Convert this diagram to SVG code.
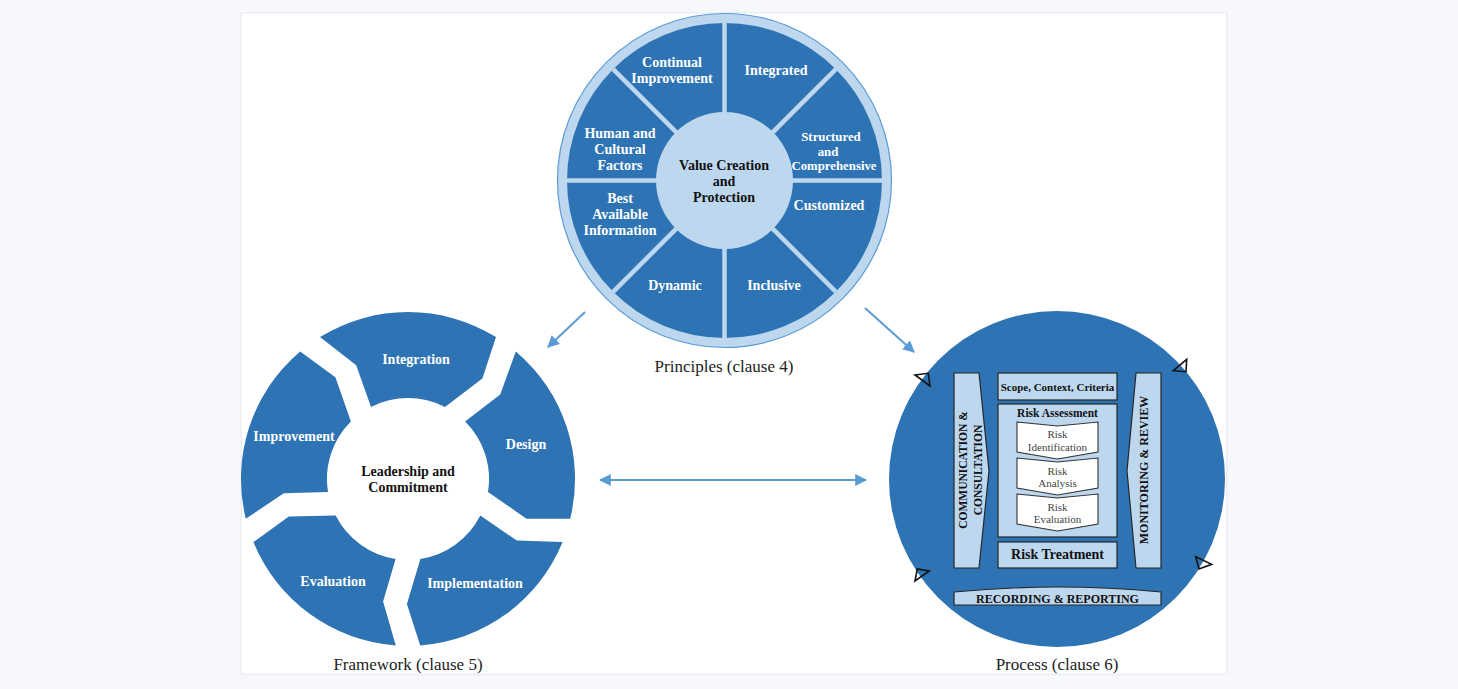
<svg xmlns="http://www.w3.org/2000/svg" width="1458" height="689" viewBox="0 0 1458 689">
<defs>
<style>
.dark{fill:#2e74b5}
.light{fill:#bdd7ee}
.wl{font-family:"Liberation Serif",serif;font-weight:bold;fill:#ffffff;text-anchor:middle}
.bl{font-family:"Liberation Serif",serif;font-weight:bold;fill:#111111;text-anchor:middle}
.cap{font-family:"Liberation Serif",serif;font-size:17px;fill:#222222;text-anchor:middle}
.box{fill:#bdd7ee;stroke:#262626;stroke-width:1.2}
.chev{fill:#ffffff;stroke:#333333;stroke-width:1.1}
.sub{font-family:"Liberation Serif",serif;font-size:11px;fill:#444444;text-anchor:middle}
.conn{stroke:#5b9bd5;stroke-width:2;fill:none}
.tri{fill:none;stroke:#111111;stroke-width:1.6;stroke-linejoin:miter}
.div{stroke:#bdd7ee;stroke-width:4.5}
</style>
<marker id="ah" viewBox="0 0 10 10" refX="9" refY="5" markerWidth="6" markerHeight="6" orient="auto-start-reverse" markerUnits="strokeWidth">
<path d="M0,0 L10,5 L0,10 Z" fill="#5b9bd5"/>
</marker>
</defs>
<rect x="0" y="0" width="1458" height="689" fill="#f7f8fc"/>
<rect x="240.5" y="12" width="987" height="663" fill="#eceef3"/>
<rect x="242" y="13.5" width="984" height="660" fill="#ffffff"/>

<g id="principles">
<circle cx="724.5" cy="180.5" r="167" fill="#bdd7ee" stroke="#5b9bd5" stroke-width="1.2"/>
<circle cx="724.5" cy="180.5" r="157.5" class="dark"/>
<line x1="724.5" y1="23" x2="724.5" y2="338" class="div"/>
<line x1="567" y1="180.5" x2="882" y2="180.5" class="div"/>
<line x1="613.1" y1="69.1" x2="835.9" y2="291.9" class="div"/>
<line x1="835.9" y1="69.1" x2="613.1" y2="291.9" class="div"/>
<circle cx="724.5" cy="180.5" r="68.5" fill="#bdd7ee"/>
<text class="wl" font-size="14"><tspan x="672" y="67">Continual</tspan><tspan x="672" y="83">Improvement</tspan></text>
<text class="wl" font-size="14" x="776" y="75">Integrated</text>
<text class="wl" font-size="12.8"><tspan x="831" y="141">Structured</tspan><tspan x="828" y="155.5">and</tspan><tspan x="834" y="170">Comprehensive</tspan></text>
<text class="wl" font-size="14" x="829" y="210">Customized</text>
<text class="wl" font-size="14" x="774" y="290">Inclusive</text>
<text class="wl" font-size="14" x="675" y="290">Dynamic</text>
<text class="wl" font-size="14"><tspan x="620" y="203">Best</tspan><tspan x="620" y="219">Available</tspan><tspan x="620" y="235">Information</tspan></text>
<text class="wl" font-size="14"><tspan x="620" y="138">Human and</tspan><tspan x="620" y="154">Cultural</tspan><tspan x="620" y="170">Factors</tspan></text>
<text class="bl" font-size="14"><tspan x="724" y="170">Value Creation</tspan><tspan x="724" y="186">and</tspan><tspan x="724" y="202">Protection</tspan></text>
<text class="cap" x="724" y="372">Principles (clause 4)</text>
</g>

<g id="framework">
<path class="dark" d="M320.0,337.1 A167,167 0 0 1 496.0,337.1 L482.4,378.5 L445.0,407.0 A81,81 0 0 0 371.0,407.0 L356.2,365.2 Z"/>
<path class="dark" d="M515.8,351.4 A167,167 0 0 1 570.2,518.8 L526.5,518.7 L488.0,492.0 A81,81 0 0 0 465.1,421.5 L500.2,394.5 Z"/>
<path class="dark" d="M562.6,542.1 A167,167 0 0 1 420.2,645.5 L406.9,604.0 L420.4,559.0 A81,81 0 0 0 480.3,515.5 L516.8,540.6 Z"/>
<path class="dark" d="M395.8,645.5 A167,167 0 0 1 253.4,542.1 L288.8,516.6 L335.7,515.5 A81,81 0 0 0 395.6,559.0 L383.1,601.5 Z"/>
<path class="dark" d="M245.8,518.8 A167,167 0 0 1 300.2,351.4 L335.4,377.2 L350.9,421.5 A81,81 0 0 0 328.0,492.0 L283.8,493.2 Z"/>
<text class="wl" font-size="14" x="416" y="364">Integration</text>
<text class="wl" font-size="14" x="526" y="449">Design</text>
<text class="wl" font-size="14" x="475" y="588">Implementation</text>
<text class="wl" font-size="14" x="333" y="586">Evaluation</text>
<text class="wl" font-size="14" x="294" y="441">Improvement</text>
<text class="bl" font-size="14"><tspan x="408" y="476">Leadership and</tspan><tspan x="408" y="492">Commitment</tspan></text>
<text class="cap" x="408" y="670">Framework (clause 5)</text>
</g>

<g id="process">
<circle cx="1057" cy="479" r="168" class="dark"/>
<path class="box" d="M954,373 L979,373 L989,471 L979,568 L954,568 Z"/>
<text class="bl" font-size="11.5" transform="translate(963,470) rotate(-90)" x="0" y="4">COMMUNICATION &amp;</text>
<text class="bl" font-size="11.5" transform="translate(978,470) rotate(-90)" x="0" y="4">CONSULTATION</text>
<path class="box" d="M1136,373 L1161,373 L1161,568 L1136,568 L1127,471 Z"/>
<text class="bl" font-size="12" transform="translate(1144,470) rotate(-90)" x="0" y="4">MONITORING &amp; REVIEW</text>
<rect class="box" x="998" y="373" width="119" height="27"/>
<text class="bl" font-size="11" x="1057.5" y="391">Scope, Context, Criteria</text>
<rect class="box" x="998" y="404" width="119" height="133"/>
<text class="bl" font-size="11.5" x="1057.5" y="417">Risk Assessment</text>
<path class="chev" d="M1017,422 L1057.5,426 L1098,422 L1098,452 L1057.5,459 L1017,452 Z"/>
<path class="chev" d="M1017,458 L1057.5,462 L1098,458 L1098,488 L1057.5,495 L1017,488 Z"/>
<path class="chev" d="M1017,494 L1057.5,498 L1098,494 L1098,524 L1057.5,531 L1017,524 Z"/>
<text class="sub"><tspan x="1057.5" y="438">Risk</tspan><tspan x="1057.5" y="451">Identification</tspan></text>
<text class="sub"><tspan x="1057.5" y="475">Risk</tspan><tspan x="1057.5" y="487">Analysis</tspan></text>
<text class="sub"><tspan x="1057.5" y="511">Risk</tspan><tspan x="1057.5" y="523">Evaluation</tspan></text>
<rect class="box" x="998" y="542" width="119" height="26"/>
<text class="bl" font-size="14" x="1057.5" y="559">Risk Treatment</text>
<path class="box" d="M954,592 Q1057.5,582 1161,592 L1161,605 L954,605 Z"/>
<text class="bl" font-size="12" x="1057.5" y="602.5">RECORDING &amp; REPORTING</text>
<path class="tri" d="M915,375 L928.3,373.3 L930,386 Z"/>
<path class="tri" d="M1173.3,370.7 L1186.7,359.3 L1186,371.7 Z"/>
<path class="tri" d="M915,581 L917.3,569 L929.3,571 Z"/>
<path class="tri" d="M1195.7,556.7 L1199,569 L1211.7,564.3 Z"/>
<text class="cap" x="1057" y="670">Process (clause 6)</text>
</g>

<g id="connectors">
<line class="conn" x1="585" y1="312" x2="548" y2="347" marker-end="url(#ah)"/>
<line class="conn" x1="865" y1="308" x2="914" y2="352" marker-end="url(#ah)"/>
<line class="conn" x1="600" y1="480" x2="866" y2="480" marker-start="url(#ah)" marker-end="url(#ah)"/>
</g>
</svg>
